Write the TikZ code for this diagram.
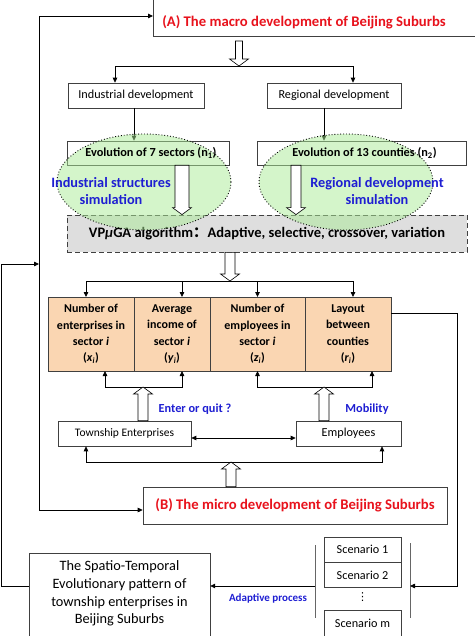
\documentclass[tikz,border=0pt]{standalone}
\usepackage{fontspec}
\setmainfont{Carlito}
\newfontfamily\cjkfont{Noto Sans CJK SC}
\newfontfamily\symfont{DejaVu Sans}
\usetikzlibrary{arrows.meta}
\usetikzlibrary{calc}
\usetikzlibrary{positioning}
\definecolor{mred}{RGB}{232,18,28}
\definecolor{mblue}{RGB}{30,30,210}
\definecolor{morange}{RGB}{250,214,178}
\definecolor{mgreen}{RGB}{170,235,150}
\definecolor{mgray}{RGB}{222,222,222}

% hollow block arrow from #2 to #3, #1 = half width of the shaft
\newcommand{\hollowarrow}[3][3.5pt]{%
  \coordinate (hb) at ($(#3)!7pt!(#2)$);
  \draw [fill=white, line width=0.6pt] ($(#2)!#1!90:(#3)$) -- ($(hb)!#1!90:(#3)$) -- ($(hb)!9.5pt!90:(#3)$) -- (#3) -- ($(hb)!9.5pt!-90:(#3)$) -- ($(hb)!#1!-90:(#3)$) -- ($(#2)!#1!-90:(#3)$) -- cycle;}

\tikzset{
  box/.style={draw=black!75, fill=white, line width=0.6pt, inner sep=0pt, font=\fontsize{12.2}{14}\selectfont},
  cell/.style={draw=black!75, fill=morange, line width=0.6pt, inner sep=0pt, outer sep=0pt, minimum height=74, align=center, font=\bfseries\fontsize{12}{16.3}\selectfont},
  title/.style={text=mred, font=\bfseries\fontsize{14.7}{17}\selectfont},
  note/.style={text=mblue, align=center, font=\bfseries\fontsize{14.3}{17}\selectfont},
  arr/.style={line width=0.8pt, -{Triangle[width=4.5pt,length=5pt]}},
  darr/.style={line width=0.8pt, {Triangle[width=4.5pt,length=5pt]}-{Triangle[width=4.5pt,length=5pt]}},
}

\begin{document}
\begin{tikzpicture}[x=1pt, y=-1pt]
  \useasboundingbox (0,0) rectangle (474,636);

  % (A) macro level
  \node [box, minimum width=330, minimum height=50, anchor=south west] (A) at (153,37) {};
  \node [title] (Atext) at (304,22) {(A) The macro development of Beijing Suburbs};

  \node [box, minimum width=136, minimum height=25] (ind) at (136,95.5) {Industrial development};
  \node [box, minimum width=134, minimum height=25] (reg) at (334,95.5) {Regional development};
  \coordinate (a1) at (239,41);
  \coordinate (split1) at (239,66);
  \hollowarrow{a1}{split1}
  \draw [arr] (split1) -| ([xshift=-21pt]ind.north);
  \draw [arr] (split1) -| ([xshift=19pt]reg.north);

  \node [box, minimum width=162, minimum height=24] (evo1) at (148,153) {};
  \node [box, minimum width=209, minimum height=24] (evo2) at (361.5,153) {};
  \draw [arr] ([xshift=-2pt]ind.south) -- ([xshift=-2pt]ind.south |- evo1.north);
  \draw [arr] ([xshift=-10pt]reg.south) -- ([xshift=-10pt]reg.south |- evo2.north);

  \node [draw=black!75, dash pattern=on 5pt off 3pt, fill=mgray, line width=0.8pt, minimum width=400, minimum height=37, font=\bfseries\fontsize{14.5}{16}\selectfont] (algo) at (267,233.5) {VP{\itshape μ}GA algorithm{\cjkfont ：}Adaptive, selective, crossover, variation};

  \draw [dotted, line width=0.9pt, fill=mgreen, fill opacity=0.5] (144,182) ellipse [x radius=87pt, y radius=48pt];
  \draw [dotted, line width=0.9pt, fill=mgreen, fill opacity=0.5] (346,182) ellipse [x radius=87pt, y radius=48pt];
  \node [font=\bfseries\fontsize{12.3}{13}\selectfont] (evo1t) at ([xshift=3pt]evo1) {Evolution of 7 sectors (n\textsubscript{1})};
  \node [font=\bfseries\fontsize{12.3}{13}\selectfont] (evo2t) at ([xshift=3pt]evo2) {Evolution of 13 counties (n\textsubscript{2})};
  \node [note] (sim1) at (111,191) {Industrial structures\\simulation};
  \node [note] (sim2) at (377,191) {Regional development\\simulation};

  \coordinate (e1) at ([xshift=34pt]evo1.south);
  \coordinate (e1end) at (e1 |- algo.north);
  \hollowarrow[7pt]{e1}{e1end}
  \coordinate (e2) at ([xshift=-65.5pt]evo2.south);
  \coordinate (e2end) at (e2 |- algo.north);
  \hollowarrow[5pt]{e2}{e2end}

  % the four variables
  \coordinate (a2) at ([xshift=-37pt]algo.south);
  \coordinate (split2) at (230,281);
  \hollowarrow[5pt]{a2}{split2}

  \node [cell, minimum width=86] (c1) at (91,334) {Number of\\enterprises in\\sector \textit{i}\\(\textit{x}\textsubscript{\textit{i}})};
  \node [cell, minimum width=76, right=0pt of c1] (c2) {Average\\income of\\sector \textit{i}\\(\textit{y}\textsubscript{\textit{i}})};
  \node [cell, minimum width=95, right=0pt of c2] (c3) {Number of\\employees in\\sector \textit{i}\\(\textit{z}\textsubscript{\textit{i}})};
  \node [cell, minimum width=86, right=0pt of c3] (c4) {Layout\\between\\counties\\(\textit{r}\textsubscript{\textit{i}})};
  \draw [arr] (split2) -| ([xshift=-5pt]c1.north);
  \draw [arr] (split2) -| ([xshift=10pt]c2.north);
  \draw [arr] (split2) -| (c3.north);
  \draw [arr] (split2) -| ([xshift=5pt]c4.north);

  % (B) micro level
  \node [box, font=\fontsize{11.5}{13}\selectfont, minimum width=133, minimum height=25] (te) at (124.5,433.5) {Township Enterprises};
  \node [box, minimum width=105, minimum height=25] (emp) at (348.5,433.5) {Employees};
  \draw [darr] ([yshift=-4.5pt]te.east) -- ([yshift=-4.5pt]emp.west);

  \coordinate (m1) at (143,387);
  \coordinate (t1) at (te.north -| m1);
  \draw [arr] (m1) -| ([xshift=14pt]c1.south);
  \draw [arr] (m1) -| ([xshift=10pt]c2.south);
  \hollowarrow[5pt]{t1}{m1}
  \coordinate (m2) at (324,387);
  \coordinate (t2) at (emp.north -| m2);
  \draw [arr] (m2) -| (c3.south);
  \draw [arr] (m2) -| ([xshift=24pt]c4.south);
  \hollowarrow[5pt]{t2}{m2}
  \node [note, font=\bfseries\fontsize{12.3}{14}\selectfont] (enter) at (195,409) {Enter or quit ?};
  \node [note, font=\bfseries\fontsize{12.3}{14}\selectfont] (mob) at (367,409) {Mobility};

  \node [box, title, minimum width=304, minimum height=37] (B) at (295,505.5) {(B) The micro development of Beijing Suburbs};
  \coordinate (split3) at (231,462);
  \coordinate (b1) at (B.north -| split3);
  \hollowarrow[5pt]{b1}{split3}
  \draw [arr] (split3) -| ([xshift=-38.5pt]te.south);
  \draw [arr] (split3) -| ([xshift=33.5pt]emp.south);

  % feedback loop on the left
  \coordinate (ltop) at (39,16);
  \coordinate (lbot) at (39,510);
  \coordinate (lmid) at (39,264);
  \draw [arr] (lbot) -- (ltop) -- (ltop -| A.west);
  \draw [arr] (ltop) -- (lbot) -- (lbot -| B.west);

  % scenarios and result
  \node [minimum width=181, inner sep=0pt, align=center, font=\fontsize{14.3}{17.8}\selectfont] (fin) at (119.5,593.5) {The Spatio-Temporal\\Evolutionary pattern of\\township enterprises in\\Beijing Suburbs};
  \draw [draw=black!75, line width=0.6pt] (29,553) rectangle (210,660);
  \draw [arr] ([yshift=7.5pt]fin.west) -- ++(-27,0) |- (lmid);

  \node [box, minimum width=77, minimum height=25] (s1) at (362.5,549.5) {Scenario 1};
  \node [box, minimum width=77, minimum height=24.5, below=0pt of s1] (s2) {Scenario 2};
  \node [font=\symfont\fontsize{11}{12}\selectfont] (dots) at (362.5,597) {⋮};
  \node [box, minimum width=77, anchor=north, text height=17pt, text depth=18pt] (sm) at (362.5,610) {Scenario m};

  \coordinate (br) at (410,586);
  \coordinate (bl) at (315,586);
  \draw [line width=1pt, black!60] (410,543) -- (410,618);
  \draw [line width=1pt, black!60] (315,545) -- (315,618);
  \draw [arr] ([yshift=21pt]c4.east) -- ++(66,0) |- (br);
  \draw [arr] (bl) -- (bl -| fin.east);
  \node [note, font=\bfseries\fontsize{11}{12}\selectfont] (adapt) at (268,598) {Adaptive process};
\end{tikzpicture}
\end{document}
